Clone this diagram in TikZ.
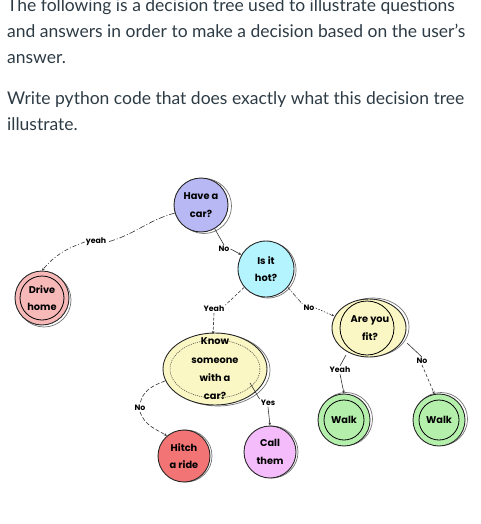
\documentclass[tikz,border=0pt]{standalone}
\usepackage{fontspec}
\setmainfont{Lato}
\newfontfamily\comic{Poppins}
\usetikzlibrary{arrows.meta}
\definecolor{txt}{HTML}{2D3B45}
\definecolor{lav}{HTML}{B8B8F4}
\definecolor{pinkf}{HTML}{F7B8B8}
\definecolor{cyanf}{HTML}{B4F4FE}
\definecolor{yelf}{HTML}{FBF7C4}
\definecolor{redf}{HTML}{F27474}
\definecolor{violf}{HTML}{F4BCFA}
\definecolor{greenf}{HTML}{B4F0AC}
\tikzset{
  hdr/.style={anchor=base west,inner sep=0pt,font=\fontsize{17.5}{20}\selectfont,text=txt},
  nd/.style={circle,draw=black!85,line width=0.9pt,align=center,font=\comic\bfseries\fontsize{9.8}{17.5}\selectfont,inner sep=0pt},
  ghost/.style={draw=black!55,line width=0.7pt,fill=white},
  lbl/.style={font=\comic\bfseries\fontsize{7.8}{8}\selectfont,inner sep=1pt},
  conn/.style={line width=0.6pt,black!80,-{Stealth[length=3pt,width=2.5pt]}},
  seg/.style={line width=0.6pt,black!80},
}
\begin{document}
\begin{tikzpicture}[x=1pt,y=-1pt]
\useasboundingbox (0,0) rectangle (480,524);
\node[hdr] (h1) at (7,12) {The following is a decision tree used to illustrate questions};
\node[hdr] (h2) at (7,38) {and answers in order to make a decision based on the user's};
\node[hdr] (h3) at (7,64) {answer.};
\node[hdr] (h4) at (7,105) {Write python code that does exactly what this decision tree};
\node[hdr] (h5) at (7,131) {illustrate.};

% ghost rings
\draw[ghost] (204,206) circle (27.5);
\draw[ghost] (44,300) circle (27);
\draw[ghost] (268,270) circle (28);
\draw[ghost] (373,327) ellipse (36 and 29);
\draw[ghost] (218,370) ellipse (52 and 36);
\draw[ghost] (186,456) circle (26);
\draw[ghost] (272,452) circle (26);
\draw[ghost] (346,419) circle (26.5);
\draw[ghost] (441,419) circle (26.5);

% nodes
\node[nd,fill=lav,minimum size=54pt] (car) at (201,205) {Have a\\car?};
\node[nd,fill=pinkf,minimum size=54pt] (drive) at (42,298) {Drive\\home};
\draw[line width=0.8pt] (drive.center) circle (22);
\node[nd,fill=cyanf,minimum size=56pt] (hot) at (266,269) {Is it\\hot?};
\fill[yelf] (369,328) ellipse (37 and 29);
\draw[line width=0.9pt,black!85] (369,328) ellipse (37 and 29);
\draw[line width=0.8pt] (367,328) circle (27);
\node[align=center,font=\comic\bfseries\fontsize{9.8}{17.5}\selectfont,inner sep=0pt,minimum width=74pt,minimum height=58pt] (fit) at (370,328) {Are you\\fit?};
\fill[yelf] (215,369) ellipse (52 and 36);
\draw[line width=0.9pt,black!85] (215,369) ellipse (52 and 36);
\draw[line width=0.5pt,dash pattern=on 1pt off 1pt,black!80] (215,369) ellipse (45 and 29);
\node[align=center,font=\comic\bfseries\fontsize{9.8}{18.3}\selectfont,inner sep=0pt,minimum width=104pt,minimum height=72pt] (know) at (215,369) {Know\\someone\\with a\\car?};
\node[nd,fill=redf,minimum size=52pt] (hitch) at (184,456) {Hitch\\a ride};
\node[nd,fill=violf,minimum size=52pt] (call) at (270,452) {Call\\them};
\node[nd,fill=greenf,minimum size=52pt] (walk1) at (344,420) {Walk};
\draw[line width=0.8pt] (walk1.center) circle (20);
\node[nd,fill=greenf,minimum size=52pt] (walk2) at (439,420) {Walk};
\draw[line width=0.8pt] (walk2.center) circle (20);

% edges
\node[lbl] (l1) at (96,242) {yeah};
\coordinate (c1) at (175,213);
\draw[seg,dash pattern=on 6pt off 2pt on 1pt off 2pt] (c1) to[out=195,in=15] (l1.east);
\draw[conn,dash pattern=on 4pt off 2pt on 1pt off 2pt] (l1.west) to[out=200,in=50] (drive.north);

\node[lbl] (l2) at (224,249) {No};
\draw[seg] (car.-60) -- (l2.north);
\draw[conn] (l2.east) -- (hot.150);

\node[lbl] (l3) at (214,309) {Yeah};
\draw[seg,dash pattern=on 3pt off 2pt] (hot.220) -- (l3.north east);
\coordinate (c3) at (213,334);
\draw[conn,dash pattern=on 3pt off 1.5pt] (l3.south) -- (c3);

\node[lbl] (l4) at (309,308) {No};
\draw[seg,dash pattern=on 4pt off 1.5pt on 1pt off 1.5pt] (hot.-40) -- (l4.north west);
\coordinate (c4) at (334,316);
\draw[conn,dash pattern=on 1.5pt off 1.5pt] (l4.east) -- (c4);

\node[lbl] (l5) at (340,370) {Yeah};
\coordinate (c5) at (346,355);
\draw[seg] (c5) -- (l5.north);
\draw[conn] (l5.south) -- (walk1.north);

\node[lbl] (l6) at (422,361) {No};
\coordinate (c6) at (407,343);
\draw[seg] (c6) -- (l6.north);
\draw[conn,dash pattern=on 3pt off 2pt] (l6.south) -- (walk2.100);

\node[lbl] (l7) at (140,408) {No};
\coordinate (c7) at (165,381);
\draw[seg,dash pattern=on 4pt off 2pt] (c7) to[out=200,in=80] (l7.north);
\draw[conn,dash pattern=on 4pt off 2pt] (l7.south) to[out=-70,in=150] (hitch.130);

\node[lbl] (l8) at (268,403) {Yes};
\coordinate (c8) at (250,383);
\draw[seg] (c8) -- (l8.north west);
\draw[conn] (l8.south) -- (call.north);
\end{tikzpicture}
\end{document}
